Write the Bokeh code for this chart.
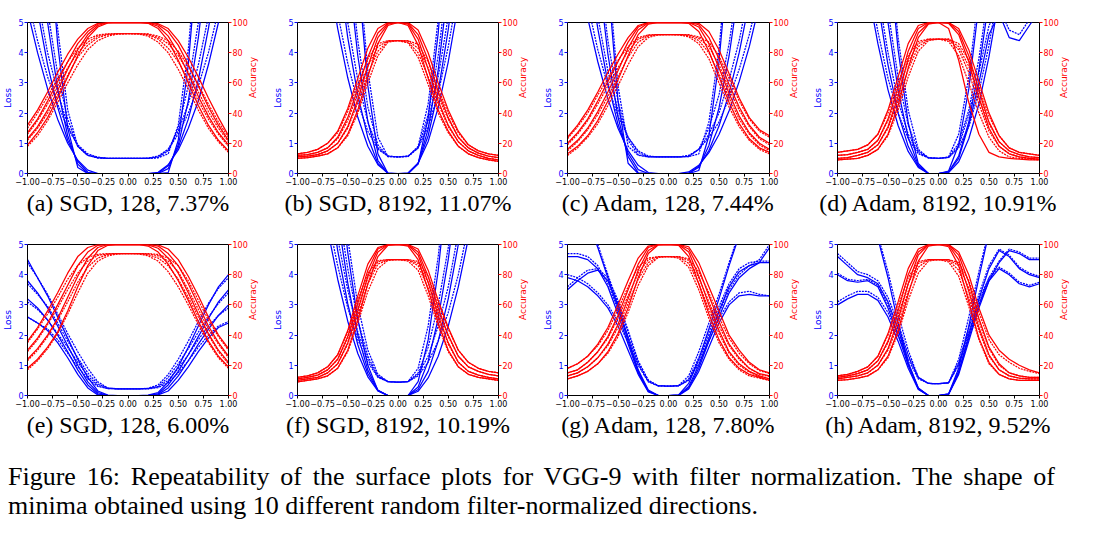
import math
from bokeh.plotting import figure
from bokeh.models import Range1d, LinearAxis, FixedTicker, Div
from bokeh.layouts import column, row
from bokeh.embed import file_html
from bokeh.resources import INLINE

# ---------------- data ----------------
X = [-1.0, -0.9, -0.8, -0.7, -0.6, -0.5, -0.4, -0.3, -0.2, -0.1, 0.0,
     0.1, 0.2, 0.3, 0.4, 0.5, 0.6, 0.7, 0.8, 0.9, 1.0]

X_TICKS = [-1.0, -0.75, -0.5, -0.25, 0.0, 0.25, 0.5, 0.75, 1.0]
X_TICK_LABELS = ["\u22121.00", "\u22120.75", "\u22120.50", "\u22120.25", "0.00",
                 "0.25", "0.50", "0.75", "1.00"]
LOSS_TICKS = [0, 1, 2, 3, 4, 5]
ACC_TICKS = [0, 20, 40, 60, 80, 100]

CAPTIONS = ["(a) SGD, 128, 7.37%", "(b) SGD, 8192, 11.07%",
            "(c) Adam, 128, 7.44%", "(d) Adam, 8192, 10.91%",
            "(e) SGD, 128, 6.00%", "(f) SGD, 8192, 10.19%",
            "(g) Adam, 128, 7.80%", "(h) Adam, 8192, 9.52%"]

FIG_CAPTION_1 = ("Figure 16: Repeatability of the surface plots for VGG-9 with "
                 "filter normalization. The shape of")
FIG_CAPTION_2 = "minima obtained using 10 different random filter-normalized directions."

# (a) SGD 128
LOSS_TRAIN_A = [
    [20.7, 13.9, 8.4, 4.3, 1.5, 0.2, 0, 0, 0, 0, 0, 0, 0, 0, 0.03, 1.1, 3.6, 7.6, 13, 20, 28],
    [11.3, 7.8, 5.0, 2.8, 1.25, 0.31, 0, 0, 0, 0, 0, 0, 0, 0, 0.16, 0.95, 2.4, 4.5, 7.3, 10.7, 14.8],
    [7.5, 5.4, 3.6, 2.2, 1.1, 0.4, 0.04, 0, 0, 0, 0, 0, 0, 0.01, 0.26, 0.86, 1.8, 3.1, 4.8, 6.8, 9.2],
    [5.4, 4.0, 2.8, 1.8, 1.0, 0.44, 0.11, 0, 0, 0, 0, 0, 0, 0.04, 0.29, 0.78, 1.5, 2.4, 3.6, 5.0, 6.6]]
LOSS_TEST_A = [
    [21, 14.2, 8.8, 4.8, 2.1, 0.9, 0.6, 0.52, 0.5, 0.5, 0.5, 0.5, 0.5, 0.52, 0.65, 1.6, 4.1, 8.0, 13.4, 20.4, 28.4],
    [11.7, 8.2, 5.4, 3.3, 1.8, 0.9, 0.6, 0.52, 0.5, 0.5, 0.5, 0.5, 0.5, 0.53, 0.75, 1.5, 2.9, 5.0, 7.7, 11.1, 15.2],
    [7.9, 5.8, 4.0, 2.7, 1.6, 0.9, 0.6, 0.52, 0.5, 0.5, 0.5, 0.5, 0.5, 0.55, 0.8, 1.4, 2.3, 3.6, 5.2, 7.2, 9.6],
    [5.8, 4.4, 3.2, 2.3, 1.5, 0.95, 0.65, 0.54, 0.5, 0.5, 0.5, 0.5, 0.51, 0.58, 0.8, 1.3, 2.0, 2.9, 4.0, 5.4, 7.0]]
ACC_TRAIN_A = [
    [19, 27, 37, 50, 64, 78, 90, 97, 99.8, 100, 100, 100, 99.5, 96, 88, 75, 60, 45, 32, 22, 15],
    [23, 31, 42, 55, 69, 82, 92, 98, 100, 100, 100, 100, 99.8, 97.5, 91, 80, 66, 51, 38, 27, 19],
    [27, 36, 48, 61, 74, 86, 94, 99, 100, 100, 100, 100, 100, 98.5, 94, 85, 72, 58, 44, 32, 22],
    [32, 42, 54, 67, 79, 89, 96, 99.5, 100, 100, 100, 100, 100, 99.2, 96, 88, 77, 64, 50, 37, 25]]
ACC_TEST_A = [
    [18, 25, 35, 47, 60, 72, 82, 88, 91, 92.4, 92.6, 92.4, 91, 87, 80, 69, 56, 42, 30, 21, 14],
    [22, 30, 40, 52, 65, 77, 85, 90, 92, 92.5, 92.6, 92.5, 92, 89, 83, 74, 62, 48, 36, 26, 18],
    [26, 35, 46, 58, 70, 80, 87, 91, 92.3, 92.6, 92.6, 92.6, 92.3, 90, 86, 78, 67, 54, 41, 30, 21],
    [30, 40, 51, 63, 74, 83, 89, 91.8, 92.5, 92.6, 92.6, 92.6, 92.4, 91, 88, 81, 71, 59, 46, 34, 24]]

# (b) SGD 8192
LOSS_TRAIN_B = [
    [63, 50, 38, 27.8, 19.2, 12.2, 6.7, 2.9, 0.65, 0, 0, 0, 0.31, 1.84, 4.65, 8.7, 14, 20.7, 28.6, 37.8, 48],
    [35, 27.7, 21.2, 15.6, 10.8, 6.9, 3.9, 1.73, 0.43, 0, 0, 0, 0.33, 1.47, 3.43, 6.2, 9.8, 14.2, 19.4, 25.5, 32],
    [22.4, 17.7, 13.6, 10, 7.0, 4.5, 2.6, 1.19, 0.33, 0, 0, 0, 0.34, 1.25, 2.72, 4.76, 7.4, 10.5, 14.3, 18.6, 23.4],
    [14.8, 11.8, 9.1, 6.8, 4.8, 3.17, 1.86, 0.9, 0.29, 0.02, 0, 0.02, 0.34, 1.06, 2.18, 3.7, 5.6, 7.9, 10.7, 13.8, 17.3]]
LOSS_TEST_B = [
    [63.5, 50.5, 38.5, 28.3, 19.7, 12.7, 7.2, 3.4, 1.2, 0.56, 0.55, 0.57, 0.9, 2.3, 5.1, 9.2, 14.5, 21.2, 29.1, 38.3, 48.5],
    [35.5, 28.2, 21.7, 16.1, 11.3, 7.4, 4.4, 2.2, 0.95, 0.56, 0.55, 0.56, 0.85, 1.95, 3.9, 6.7, 10.3, 14.7, 19.9, 26, 32.5],
    [22.9, 18.2, 14.1, 10.5, 7.5, 5.0, 3.1, 1.7, 0.85, 0.57, 0.55, 0.57, 0.85, 1.75, 3.2, 5.2, 7.9, 11, 14.8, 19.1, 23.9],
    [15.3, 12.3, 9.6, 7.3, 5.3, 3.65, 2.35, 1.4, 0.8, 0.58, 0.55, 0.58, 0.85, 1.55, 2.65, 4.2, 6.1, 8.4, 11.2, 14.3, 17.8]]
ACC_TRAIN_B = [
    [10, 10.5, 11.5, 13, 17, 26, 42, 64, 86, 98, 100, 98, 85, 63, 42, 28, 18, 13, 10.5, 9, 8],
    [11, 11.5, 12.5, 15, 20, 31, 49, 71, 90, 99, 100, 99, 89, 69, 48, 32, 21, 15, 12, 10, 9],
    [12, 12.5, 14, 17, 24, 37, 56, 77, 93, 99.5, 100, 99.5, 92, 75, 54, 37, 24, 17, 13.5, 11.5, 10.5],
    [13, 14, 16, 20, 28, 43, 63, 83, 96, 100, 100, 100, 95, 80, 60, 42, 28, 19, 15, 13, 12]]
ACC_TEST_B = [
    [10, 10.5, 11.5, 13, 17, 25, 40, 60, 78, 87, 88, 86.5, 77, 59, 40, 27, 18, 13, 10.5, 9, 8],
    [11, 11.5, 12.5, 15, 20, 30, 47, 66, 81, 87.5, 88, 87, 80, 64, 46, 31, 21, 15, 12, 10, 9],
    [12, 12.5, 14, 17, 23, 35, 53, 71, 84, 87.8, 88, 87.8, 83, 70, 51, 36, 24, 17, 13.5, 11.5, 10.5],
    [13, 14, 16, 20, 27, 41, 59, 76, 86, 88, 88, 88, 85.5, 74, 56, 40, 27, 19, 15, 13, 12]]

# (c) Adam 128
LOSS_TRAIN_C = [
    [40, 30, 21, 12.2, 6.4, 2.4, 0.34, 0, 0, 0, 0, 0, 0, 0.1, 1.25, 3.7, 7.4, 12.3, 18.6, 26, 35],
    [20, 14.8, 10.4, 6.8, 3.95, 1.87, 0.56, 0.02, 0, 0, 0, 0, 0, 0.21, 0.93, 2.17, 3.9, 6.2, 9.0, 12.3, 16],
    [12.7, 9.6, 7.0, 4.8, 3.0, 1.63, 0.67, 0.13, 0, 0, 0, 0, 0.01, 0.24, 0.76, 1.57, 2.66, 4.0, 5.7, 7.7, 9.9],
    [8.8, 6.9, 5.15, 3.7, 2.47, 1.5, 0.76, 0.27, 0.03, 0, 0, 0, 0.05, 0.27, 0.69, 1.29, 2.08, 3.05, 4.2, 5.6, 7.1]]
LOSS_TEST_C = [
    [40.4, 30.4, 21.4, 12.6, 6.8, 2.9, 0.9, 0.6, 0.55, 0.55, 0.55, 0.55, 0.56, 0.65, 1.7, 4.1, 7.8, 12.7, 19, 26.4, 35.4],
    [20.4, 15.2, 10.8, 7.2, 4.4, 2.4, 1.1, 0.62, 0.55, 0.55, 0.55, 0.55, 0.56, 0.8, 1.5, 2.6, 4.3, 6.6, 9.4, 12.7, 16.4],
    [13.1, 10, 7.4, 5.2, 3.4, 2.1, 1.2, 0.7, 0.56, 0.55, 0.55, 0.55, 0.57, 0.8, 1.3, 2.0, 3.1, 4.4, 6.1, 8.1, 10.3],
    [9.2, 7.3, 5.6, 4.1, 2.9, 1.9, 1.2, 0.75, 0.58, 0.55, 0.55, 0.55, 0.6, 0.8, 1.2, 1.7, 2.5, 3.45, 4.6, 6.0, 7.5]]
ACC_TRAIN_C = [
    [13, 18, 25, 35, 48, 62, 78, 92, 99, 100, 100, 100, 99.5, 94, 81, 64, 47, 33, 23, 17, 14],
    [16, 22, 30, 41, 54, 68, 83, 95, 99.8, 100, 100, 100, 100, 97, 86, 70, 53, 38, 27, 20, 16],
    [20, 27, 36, 48, 61, 74, 87, 97, 100, 100, 100, 100, 100, 98.5, 90, 76, 59, 44, 32, 24, 20],
    [24, 32, 42, 54, 67, 79, 90, 98, 100, 100, 100, 100, 100, 99.5, 94, 82, 66, 50, 37, 29, 25]]
ACC_TEST_C = [
    [12, 17, 24, 33, 45, 58, 72, 84, 90, 91.8, 92, 91.8, 90.5, 86, 76, 60, 44, 31, 22, 16, 13],
    [15, 21, 29, 39, 51, 64, 77, 87, 91, 92, 92, 92, 91.3, 88, 80, 66, 50, 36, 26, 19, 15],
    [19, 26, 35, 46, 58, 70, 81, 89, 91.6, 92, 92, 92, 91.7, 89.5, 84, 72, 56, 42, 31, 23, 19],
    [23, 31, 40, 52, 63, 75, 84, 90, 91.8, 92, 92, 92, 91.9, 90.5, 87, 78, 63, 48, 36, 28, 24]]

# (d) Adam 8192
LOSS_TRAIN_D = [
    [40, 31.6, 24, 17.5, 12, 7.5, 4.1, 1.68, 0.33, 0, 0, 0.08, 0.96, 2.8, 5.6, 9.4, 14.2, 20, 26.7, 34.4, 43],
    [26, 20.5, 15.7, 11.5, 7.9, 5.0, 2.77, 1.19, 0.27, 0, 0, 0.05, 0.58, 1.71, 3.43, 5.75, 8.7, 12.2, 16.3, 21, 26],
    [18.3, 14.5, 11, 8.1, 5.65, 3.6, 2.0, 0.9, 0.23, 0, 0, 0.03, 0.39, 1.15, 2.3, 3.87, 5.8, 8.2, 11, 14.1, 17.7],
    [13.7, 10.8, 8.3, 6.1, 4.3, 2.77, 1.59, 0.73, 0.2, 0, 0, 0.05, 0.5, 1.6, 3.0, 4.6, 5.3, 4.5, 4.4, 4.9, 5.4]]
LOSS_TEST_D = [
    [40.4, 32, 24.4, 17.9, 12.4, 7.9, 4.5, 2.1, 0.8, 0.52, 0.5, 0.55, 1.3, 3.2, 6.0, 9.8, 14.6, 20.4, 27.1, 34.8, 43.4],
    [26.4, 20.9, 16.1, 11.9, 8.3, 5.4, 3.2, 1.6, 0.75, 0.52, 0.5, 0.54, 1.0, 2.1, 3.8, 6.1, 9.1, 12.6, 16.7, 21.4, 26.4],
    [18.7, 14.9, 11.4, 8.5, 6.0, 4.0, 2.4, 1.3, 0.7, 0.52, 0.5, 0.53, 0.85, 1.55, 2.7, 4.25, 6.2, 8.6, 11.4, 14.5, 18.1],
    [14.1, 11.2, 8.7, 6.5, 4.7, 3.15, 2.0, 1.15, 0.65, 0.52, 0.5, 0.53, 0.9, 1.95, 3.35, 4.9, 5.5, 4.75, 4.6, 5.1, 5.6]]
ACC_TRAIN_D = [
    [9, 9.5, 10, 12, 16, 26, 45, 70, 90, 99, 100, 96, 75, 47, 26, 14, 11, 10, 9.5, 9, 9],
    [10, 10.5, 12, 14, 19, 31, 51, 76, 93, 99.5, 100, 99.5, 92, 74, 50, 30, 18, 13, 11, 10, 9.5],
    [12, 12.5, 14, 16, 22, 36, 57, 81, 96, 100, 100, 100, 94, 78, 55, 34, 21, 15, 12.5, 11, 10.5],
    [14, 15, 16, 19, 26, 42, 64, 86, 98, 100, 100, 100, 96, 82, 61, 40, 25, 17, 14, 13, 12]]
ACC_TEST_D = [
    [9, 9.5, 10, 12, 16, 25, 42, 64, 81, 88, 89, 87.5, 78, 60, 40, 24, 15, 11, 10, 9.5, 9],
    [10, 10.5, 12, 14, 19, 30, 48, 69, 84, 88.5, 89, 88.5, 82, 67, 46, 28, 18, 13, 11, 10, 9.5],
    [12, 12.5, 14, 16, 22, 35, 54, 74, 86, 89, 89, 89, 84, 71, 51, 33, 21, 15, 12.5, 11, 10.5],
    [14, 15, 16, 19, 26, 40, 60, 78, 87.5, 89, 89, 89, 86, 75, 57, 38, 25, 17, 14, 13, 12]]

# (e) SGD 128
LOSS_TRAIN_E = [
    [4.5, 3.9, 3.3, 2.6, 1.9, 1.2, 0.6, 0.15, 0.01, 0, 0, 0, 0.01, 0.1, 0.45, 0.95, 1.6, 2.3, 3.0, 3.6, 4.0],
    [3.8, 3.4, 2.9, 2.3, 1.65, 1.0, 0.45, 0.1, 0, 0, 0, 0, 0, 0.06, 0.35, 0.8, 1.35, 1.95, 2.55, 3.1, 3.5],
    [3.2, 2.9, 2.5, 2.0, 1.45, 0.85, 0.35, 0.05, 0, 0, 0, 0, 0, 0.03, 0.25, 0.65, 1.15, 1.7, 2.2, 2.65, 3.0],
    [2.6, 2.4, 2.15, 1.75, 1.25, 0.7, 0.25, 0.02, 0, 0, 0, 0, 0, 0.02, 0.15, 0.5, 0.95, 1.45, 1.9, 2.25, 2.4]]
LOSS_TEST_E = [
    [4.4, 3.9, 3.35, 2.7, 2.05, 1.45, 0.9, 0.45, 0.25, 0.22, 0.22, 0.22, 0.24, 0.35, 0.7, 1.2, 1.8, 2.45, 3.05, 3.55, 3.9],
    [3.7, 3.35, 2.95, 2.4, 1.8, 1.25, 0.75, 0.38, 0.24, 0.22, 0.22, 0.22, 0.23, 0.3, 0.6, 1.05, 1.55, 2.1, 2.6, 3.05, 3.4],
    [3.1, 2.85, 2.5, 2.05, 1.6, 1.1, 0.65, 0.33, 0.23, 0.22, 0.22, 0.22, 0.23, 0.28, 0.5, 0.9, 1.35, 1.85, 2.3, 2.65, 2.9],
    [2.6, 2.4, 2.2, 1.85, 1.4, 0.95, 0.55, 0.3, 0.23, 0.22, 0.22, 0.22, 0.22, 0.26, 0.42, 0.75, 1.15, 1.6, 2.0, 2.3, 2.45]]
ACC_TRAIN_E = [
    [18, 24, 32, 42, 56, 72, 86, 96, 99.5, 100, 100, 100, 99, 95, 87, 76, 63, 49, 36, 26, 19],
    [24, 31, 40, 51, 65, 79, 91, 98, 100, 100, 100, 100, 99.8, 97.5, 91, 81, 68, 54, 41, 30, 22],
    [30, 38, 48, 60, 73, 86, 95, 99.5, 100, 100, 100, 100, 100, 99, 94, 86, 74, 60, 46, 35, 26],
    [36, 45, 56, 68, 81, 92, 98, 100, 100, 100, 100, 100, 100, 99.8, 97, 90, 79, 66, 52, 40, 31]]
ACC_TEST_E = [
    [17, 23, 31, 41, 54, 68, 81, 89, 92.5, 93.8, 94, 93.8, 92.5, 89, 82, 72, 60, 47, 35, 25, 18],
    [23, 30, 39, 50, 62, 75, 85, 91, 93.4, 94, 94, 94, 93.3, 91, 86, 77, 65, 52, 40, 29, 21],
    [29, 37, 47, 58, 70, 81, 89, 92.8, 93.8, 94, 94, 94, 93.8, 92.5, 89, 82, 70, 57, 44, 34, 25],
    [35, 44, 54, 65, 77, 86, 91.5, 93.5, 94, 94, 94, 94, 94, 93.4, 91, 86, 76, 63, 50, 39, 30]]

# (f) SGD 8192
LOSS_TRAIN_F = [
    [26.2, 20.5, 15.5, 11.2, 7.6, 4.74, 2.52, 1.0, 0.17, 0, 0, 0, 0.46, 1.84, 4.13, 7.3, 11.5, 16.5, 22.5, 29.4, 37],
    [20, 15.7, 11.9, 8.7, 5.9, 3.73, 2.0, 0.84, 0.17, 0, 0, 0, 0.28, 1.13, 2.55, 4.5, 7.1, 10.2, 13.9, 18.1, 22.9],
    [15.8, 12.5, 9.5, 7.0, 4.8, 3.04, 1.68, 0.72, 0.16, 0, 0, 0, 0.2, 0.8, 1.8, 3.2, 5.0, 7.2, 9.8, 12.8, 16.2],
    [12.5, 9.9, 7.5, 5.5, 3.85, 2.46, 1.39, 0.62, 0.15, 0, 0, 0, 0.14, 0.58, 1.3, 2.3, 3.6, 5.2, 7.1, 9.2, 11.7]]
LOSS_TEST_F = [
    [26.6, 20.9, 15.9, 11.6, 8.0, 5.2, 3.0, 1.5, 0.7, 0.46, 0.44, 0.46, 0.9, 2.3, 4.6, 7.7, 11.9, 16.9, 22.9, 29.8, 37.4],
    [20.4, 16.1, 12.3, 9.1, 6.3, 4.2, 2.5, 1.3, 0.65, 0.46, 0.44, 0.46, 0.75, 1.6, 3.0, 4.9, 7.5, 10.6, 14.3, 18.5, 23.3],
    [16.2, 12.9, 9.9, 7.4, 5.2, 3.5, 2.1, 1.2, 0.62, 0.46, 0.44, 0.46, 0.7, 1.3, 2.3, 3.6, 5.4, 7.6, 10.2, 13.2, 16.6],
    [12.9, 10.3, 7.9, 5.9, 4.3, 2.9, 1.85, 1.1, 0.6, 0.46, 0.44, 0.46, 0.65, 1.1, 1.8, 2.75, 4.0, 5.6, 7.5, 9.6, 12.1]]
ACC_TRAIN_F = [
    [9, 10, 11, 13, 18, 30, 50, 74, 92, 99.5, 100, 99, 90, 70, 48, 30, 19, 14, 12, 11, 10],
    [10, 11, 12, 15, 21, 35, 56, 79, 95, 100, 100, 99.8, 93, 75, 53, 35, 22, 16, 13.5, 12, 11],
    [11, 12, 13.5, 17, 24, 39, 61, 83, 97, 100, 100, 100, 95, 79, 58, 40, 26, 19, 16, 14, 13],
    [12, 13, 15, 19, 27, 43, 66, 87, 98, 100, 100, 100, 97, 83, 63, 45, 30, 22, 18, 16, 15]]
ACC_TEST_F = [
    [9, 10, 11, 13, 18, 29, 48, 69, 84, 89.5, 90, 89, 83, 66, 46, 29, 19, 14, 12, 11, 10],
    [10, 11, 12, 15, 21, 34, 53, 74, 87, 89.8, 90, 89.7, 86, 71, 51, 34, 22, 16, 13.5, 12, 11],
    [11, 12, 13.5, 17, 24, 38, 58, 78, 88.5, 90, 90, 90, 87.5, 75, 56, 39, 26, 19, 16, 14, 13],
    [12, 13, 15, 19, 27, 42, 63, 81, 89.3, 90, 90, 90, 88.8, 79, 61, 44, 30, 22, 18, 16, 15]]

# (g) Adam 128
LOSS_TRAIN_G = [
    [7.5, 6.6, 5.8, 4.9, 3.9, 2.9, 1.8, 0.8, 0.15, 0, 0, 0.02, 0.4, 1.2, 2.2, 3.2, 4.3, 5.3, 6.2, 7.0, 7.7],
    [3.5, 3.8, 4.05, 4.15, 3.8, 3.0, 1.9, 0.85, 0.18, 0, 0, 0.01, 0.3, 1.0, 1.9, 2.8, 3.6, 4.1, 4.3, 4.4, 4.4],
    [3.9, 3.8, 3.6, 3.3, 2.9, 2.3, 1.5, 0.7, 0.12, 0, 0, 0, 0.22, 0.8, 1.6, 2.4, 3.0, 3.3, 3.35, 3.3, 3.3],
    [4.6, 4.6, 4.5, 4.2, 3.6, 2.7, 1.7, 0.75, 0.14, 0, 0, 0.01, 0.25, 0.9, 1.8, 2.6, 3.4, 3.9, 4.2, 4.4, 4.9]]
LOSS_TEST_G = [
    [7.6, 6.7, 5.9, 5.0, 4.0, 3.05, 2.1, 1.1, 0.5, 0.32, 0.31, 0.33, 0.65, 1.45, 2.4, 3.35, 4.4, 5.4, 6.3, 7.1, 7.8],
    [3.6, 3.9, 4.15, 4.2, 3.9, 3.15, 2.15, 1.15, 0.5, 0.32, 0.31, 0.32, 0.55, 1.25, 2.1, 2.95, 3.7, 4.2, 4.4, 4.45, 4.45],
    [4.0, 3.9, 3.7, 3.4, 3.0, 2.45, 1.75, 1.0, 0.45, 0.32, 0.31, 0.32, 0.5, 1.05, 1.8, 2.55, 3.1, 3.4, 3.45, 3.35, 3.3],
    [4.7, 4.7, 4.6, 4.3, 3.7, 2.85, 1.95, 1.05, 0.47, 0.32, 0.31, 0.32, 0.52, 1.15, 2.0, 2.75, 3.5, 4.0, 4.3, 4.5, 5.0]]
ACC_TRAIN_G = [
    [11, 13, 16, 21, 29, 41, 58, 78, 94, 99.8, 100, 99.5, 92, 74, 54, 37, 25, 18, 14, 12, 10],
    [13, 15, 19, 25, 34, 47, 64, 83, 96, 100, 100, 100, 95, 79, 60, 43, 29, 21, 16, 13, 11],
    [15, 17, 22, 29, 39, 53, 70, 87, 98, 100, 100, 100, 97, 84, 66, 49, 34, 25, 18, 14.5, 13],
    [18, 21, 26, 34, 45, 60, 76, 91, 99, 100, 100, 100, 98.5, 88, 72, 56, 40, 30, 22, 17, 15]]
ACC_TEST_G = [
    [11, 13, 16, 21, 28, 39, 55, 73, 86, 91.5, 92, 91, 85, 70, 51, 35, 24, 17, 13, 11.5, 10],
    [13, 15, 19, 25, 33, 45, 61, 77, 88, 91.8, 92, 91.8, 87.5, 74, 57, 41, 28, 20, 15.5, 12.5, 11],
    [15, 17, 22, 29, 38, 51, 66, 81, 90, 92, 92, 92, 89.5, 78, 62, 46, 33, 24, 18, 14, 12.5],
    [18, 21, 26, 33, 43, 57, 72, 85, 91, 92, 92, 92, 90.5, 82, 68, 52, 38, 28, 21, 16.5, 14.5]]

# (h) Adam 8192
LOSS_TRAIN_H = [
    [9, 8, 7, 6.2, 5.2, 3.9, 2.4, 1.1, 0.25, 0, 0, 0.05, 0.9, 2.3, 3.9, 5.4, 6.6, 7.5, 8.2, 8.8, 9.3],
    [3.0, 3.2, 3.35, 3.35, 3.15, 2.6, 1.8, 0.9, 0.2, 0, 0, 0.04, 0.7, 1.8, 2.9, 3.8, 4.2, 4.0, 3.7, 3.6, 3.7],
    [4.0, 3.8, 3.75, 3.8, 3.6, 2.9, 2.0, 1.0, 0.22, 0, 0, 0.05, 0.8, 2.0, 3.2, 4.2, 4.8, 4.6, 4.2, 4.0, 3.9],
    [4.6, 4.3, 4.0, 3.9, 3.7, 3.1, 2.2, 1.05, 0.24, 0, 0, 0.04, 0.75, 1.9, 3.0, 3.8, 4.4, 4.8, 4.7, 4.5, 4.5]]
LOSS_TEST_H = [
    [9.1, 8.1, 7.1, 6.3, 5.3, 4.1, 2.7, 1.5, 0.6, 0.4, 0.39, 0.42, 1.2, 2.6, 4.1, 5.5, 6.7, 7.6, 8.3, 8.9, 9.4],
    [3.1, 3.3, 3.45, 3.45, 3.25, 2.75, 2.0, 1.2, 0.55, 0.4, 0.39, 0.42, 1.0, 2.05, 3.05, 3.9, 4.25, 4.05, 3.75, 3.65, 3.75],
    [4.05, 3.85, 3.8, 3.85, 3.65, 3.0, 2.2, 1.3, 0.6, 0.4, 0.39, 0.42, 1.1, 2.25, 3.35, 4.3, 4.85, 4.65, 4.25, 4.05, 3.95],
    [4.7, 4.4, 4.1, 4.0, 3.8, 3.25, 2.4, 1.35, 0.6, 0.4, 0.39, 0.42, 1.05, 2.15, 3.15, 3.9, 4.45, 4.85, 4.75, 4.55, 4.55]]
ACC_TRAIN_H = [
    [10, 10.5, 11.5, 13, 17, 26, 43, 67, 89, 99, 100, 98.5, 86, 62, 38, 22, 14, 11, 10, 10, 10],
    [11, 12, 13, 15, 20, 31, 50, 74, 93, 99.8, 100, 99.5, 90, 69, 45, 27, 17, 13, 11.5, 11, 11],
    [12, 13, 14.5, 17, 23, 36, 56, 80, 95, 100, 100, 100, 93, 75, 51, 32, 21, 15, 13, 12, 12],
    [13, 14, 16, 19, 26, 41, 62, 84, 97, 100, 100, 100, 95, 80, 58, 40, 30, 24, 20, 17, 15]]
ACC_TEST_H = [
    [10, 10.5, 11.5, 13, 17, 25, 41, 63, 81, 89, 90, 88.5, 79, 59, 37, 21, 14, 11, 10, 10, 10],
    [11, 12, 13, 15, 20, 30, 47, 69, 85, 89.8, 90, 89.5, 83, 65, 43, 26, 17, 13, 11.5, 11, 11],
    [12, 13, 14.5, 17, 23, 35, 53, 74, 87.5, 90, 90, 90, 86, 71, 49, 31, 20, 15, 13, 12, 12],
    [13, 14, 16, 19, 26, 40, 59, 78, 88.8, 90, 90, 90, 88, 76, 55, 37, 27, 22, 18, 16, 14.5]]

PANELS = [
    (LOSS_TRAIN_A, LOSS_TEST_A, ACC_TRAIN_A, ACC_TEST_A),
    (LOSS_TRAIN_B, LOSS_TEST_B, ACC_TRAIN_B, ACC_TEST_B),
    (LOSS_TRAIN_C, LOSS_TEST_C, ACC_TRAIN_C, ACC_TEST_C),
    (LOSS_TRAIN_D, LOSS_TEST_D, ACC_TRAIN_D, ACC_TEST_D),
    (LOSS_TRAIN_E, LOSS_TEST_E, ACC_TRAIN_E, ACC_TEST_E),
    (LOSS_TRAIN_F, LOSS_TEST_F, ACC_TRAIN_F, ACC_TEST_F),
    (LOSS_TRAIN_G, LOSS_TEST_G, ACC_TRAIN_G, ACC_TEST_G),
    (LOSS_TRAIN_H, LOSS_TEST_H, ACC_TRAIN_H, ACC_TEST_H),
]

# ---------------- layout / style ----------------
BLUE = "#0000ff"
RED = "#ff0000"
COL_WIDTHS = [270, 270, 270, 290]
COL_LEFT = [23, 25, 26, 26]
COL_RIGHT = [42, 42, 41, 61]
ROW_HEIGHTS = [225, 230]
ROW_TOP = [22, 19]
ROW_BOTTOM = [52, 60]
TICK_FONT = "DejaVu Sans"
LW = 1.25


def style_axis(ax, color, label=None):
    ax.major_label_text_font = TICK_FONT
    ax.major_label_text_font_size = "8px"
    ax.major_label_text_color = color
    ax.major_tick_line_color = color
    ax.major_tick_out = 3
    ax.major_tick_in = 0
    ax.minor_tick_line_color = None
    ax.major_label_standoff = 1
    ax.axis_line_color = "black"
    ax.axis_line_width = 1
    if label is not None:
        ax.axis_label = label
        ax.axis_label_text_font = TICK_FONT
        ax.axis_label_text_font_size = "9px"
        ax.axis_label_text_font_style = "normal"
        ax.axis_label_text_color = color
        ax.axis_label_standoff = 2


def make_panel(i):
    r, c = divmod(i, 4)
    lt, le, at, ae = PANELS[i]
    p = figure(width=COL_WIDTHS[c], height=ROW_HEIGHTS[r],
               x_range=Range1d(-1, 1), y_range=Range1d(0, 5),
               output_backend="svg", toolbar_location=None,
               min_border_left=COL_LEFT[c], min_border_right=COL_RIGHT[c],
               min_border_top=ROW_TOP[r], min_border_bottom=ROW_BOTTOM[r],
               title=CAPTIONS[i], title_location="below")
    p.title.text_font = "Liberation Serif"
    p.title.text_font_size = "24px"
    p.title.text_font_style = "normal"
    p.title.text_color = "black"
    p.title.align = "center"
    p.title.offset = 5
    p.title.standoff = 0
    p.xgrid.visible = False
    p.ygrid.visible = False
    p.outline_line_color = "black"
    p.outline_line_width = 1
    p.outline_line_alpha = 1
    p.background_fill_color = "white"
    p.border_fill_color = "white"

    p.xaxis.ticker = FixedTicker(ticks=X_TICKS)
    p.xaxis.major_label_overrides = dict(zip(X_TICKS, X_TICK_LABELS))
    style_axis(p.xaxis[0], "black")
    p.yaxis.ticker = FixedTicker(ticks=LOSS_TICKS)
    style_axis(p.yaxis[0], BLUE, "Loss")

    p.extra_y_ranges = {"acc": Range1d(0, 100)}
    ax2 = LinearAxis(y_range_name="acc", ticker=FixedTicker(ticks=ACC_TICKS))
    style_axis(ax2, RED, "Accuracy")
    ax2.axis_label_orientation = math.pi / 2
    p.add_layout(ax2, "right")

    for ys in lt:
        p.line(X, ys, line_color=BLUE, line_width=LW)
    for ys in le:
        p.line(X, ys, line_color=BLUE, line_width=LW, line_dash="2 1")
    for ys in at:
        p.line(X, ys, line_color=RED, line_width=LW, y_range_name="acc")
    for ys in ae:
        p.line(X, ys, line_color=RED, line_width=LW, line_dash="2 1", y_range_name="acc")
    return p


figs = [make_panel(i) for i in range(8)]

cap_html = (
    '<div style="width:1047px;text-align:justify;text-align-last:justify;">'
    + FIG_CAPTION_1 + '</div><div style="white-space:nowrap;">' + FIG_CAPTION_2 + '</div>'
)
div = Div(text=cap_html, width=1100, height=81, margin=(0, 0, 0, 0),
          styles={"font-family": "'Liberation Serif'", "font-size": "26px",
                  "line-height": "29px", "color": "black",
                  "padding": "7px 0 0 8px", "box-sizing": "border-box"})

layout = column(row(*figs[:4]), row(*figs[4:]), div)
open("out.html", "w").write(file_html(layout, INLINE))
